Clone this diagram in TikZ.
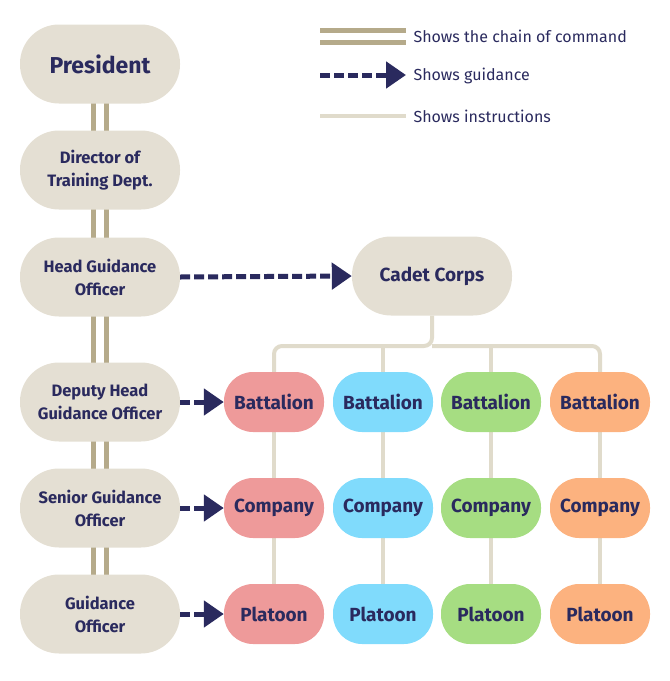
\documentclass[tikz,border=0pt]{standalone}
\usepackage{fontspec}
\setmainfont{Fira Sans}
\usetikzlibrary{arrows.meta}
\definecolor{beige}{HTML}{E4DFD3}
\definecolor{tan}{HTML}{B5AA8A}
\definecolor{navy}{HTML}{2A2A5E}
\definecolor{lline}{HTML}{E0DBCB}
\definecolor{cred}{HTML}{EE9A9A}
\definecolor{cblue}{HTML}{80DBFC}
\definecolor{cgreen}{HTML}{A6DD82}
\definecolor{corange}{HTML}{FCB27F}
\tikzset{
 lbox/.style={fill=beige,rounded corners=39pt,minimum width=160pt,minimum height=79pt,align=center,text=navy,font=\fontsize{16.5}{23}\selectfont\bfseries},
 cbox/.style={rounded corners=29pt,minimum width=100pt,minimum height=60pt,text=navy,font=\fontsize{19}{22}\selectfont\bfseries},
 instr/.style={lline,line width=4pt},
 guide/.style={navy,line width=5pt,dash pattern=on 10pt off 4pt,-{Triangle[length=20pt,width=26pt]}},
 ltext/.style={anchor=west,text=navy,font=\fontsize{16}{19}\selectfont}
}
\begin{document}
\begin{tikzpicture}[x=1pt,y=-1pt]
\useasboundingbox (0,0) rectangle (670,681);
% chain
\draw[tan,line width=5pt] (93,100) -- (93,580) (106,100) -- (106,580);
\node[lbox,font=\fontsize{23}{26}\selectfont\bfseries] (pres) at (100,64) {President};
\node[lbox] (dir) at (100,170) {Director of\\Training Dept.};
\node[lbox] (head) at (100,277) {Head Guidance\\Officer};
\node[lbox] (dep) at (100,402) {Deputy Head\\Guidance Officer};
\node[lbox] (sen) at (100,508) {Senior Guidance\\Officer};
\node[lbox] (gui) at (100,614) {Guidance\\Officer};
\node[lbox,font=\fontsize{19}{22}\selectfont\bfseries] (cadet) at (432,276) {Cadet Corps};
% tree
\coordinate (j) at (432,346);
\draw[instr,rounded corners=8pt] (cadet.south) -- (j) -- (274,346) -- (274,380);
\draw[instr,rounded corners=8pt] (j) -- (600,346) -- (600,380);
\draw[instr] (383,346) -- (383,380) (491,346) -- (491,380);
\foreach \x in {274,383,491,600} \draw[instr] (\x,400) -- (\x,620);
\foreach \c/\x/\n in {cred/274/a,cblue/383/b,cgreen/491/c,corange/600/d}{
 \node[cbox,fill=\c] (bat\n) at (\x,402) {Battalion};
 \node[cbox,fill=\c] (com\n) at (\x,508) {Company};
 \node[cbox,fill=\c] (pla\n) at (\x,614) {Platoon};
}
% guidance
\draw[guide] (head.east) -- (cadet.west);
\draw[guide] (dep.east) -- (bata.west);
\draw[guide] (sen.east) -- (coma.west);
\draw[guide] (gui.east) -- (plaa.west);
% legend
\coordinate (l1a) at (320,30); \coordinate (l1b) at (406,30);
\coordinate (l1c) at (320,42); \coordinate (l1d) at (406,42);
\draw[tan,line width=5pt] (l1a) -- (l1b) (l1c) -- (l1d);
\coordinate (l2a) at (320,75); \coordinate (l2b) at (406,75);
\draw[guide] (l2a) -- (l2b);
\coordinate (l3a) at (320,116); \coordinate (l3b) at (406,116);
\draw[instr] (l3a) -- (l3b);
\node[ltext] (t1) at (410,36) {Shows the chain of command};
\node[ltext] (t2) at (410,76) {Shows guidance};
\node[ltext] (t3) at (410,116) {Shows instructions};
\end{tikzpicture}
\end{document}
